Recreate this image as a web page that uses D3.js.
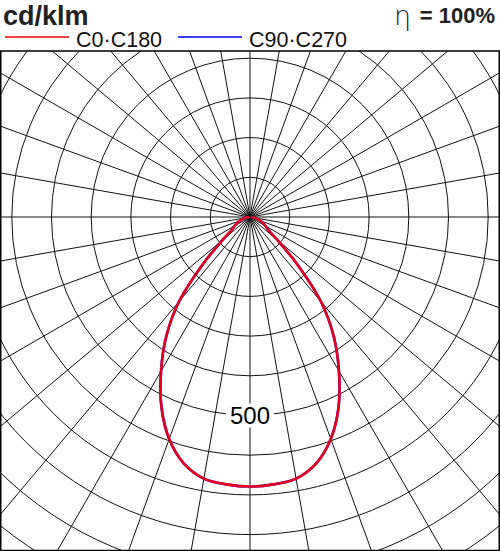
<!DOCTYPE html>
<html>
<head>
<meta charset="utf-8">
<script src="https://cdn.jsdelivr.net/npm/d3@7"></script>
<style>
body { margin: 0; background: #fff; }
</style>
</head>
<body>
<script>
var width = 500,
    height = 551;

// gamma angle from nadir (deg) and luminous intensity (cd/klm)
var gammas  = [0, 5, 10, 15, 20, 25, 30, 35, 40, 45, 50, 55, 60, 65, 70, 75, 80, 85, 90];
var c0c180  = [679, 676, 669, 643, 595, 528, 448, 368, 278, 168, 90, 55, 45, 36, 28, 20, 12, 6, 2];
var c90c270 = [679, 676, 669, 643, 595, 528, 448, 368, 278, 168, 90, 55, 45, 36, 28, 20, 12, 6, 2];

var ringValues = [100, 200, 300, 400, 500, 600, 700, 800, 900, 1000, 1100];
var spokeAngles = [0, 10, 20, 30, 40, 50, 60, 70, 80, 90, 100, 110, 120, 130, 140, 150, 160, 170,
                   180, 190, 200, 210, 220, 230, 240, 250, 260, 270, 280, 290, 300, 310, 320, 330, 340, 350];
var labelValues = [500];

var cx = 250, cy = 217;
var frame = {x: 0.75, y: 51, w: 498.5, h: 499.5};

var r = d3.scaleLinear().domain([0, 100]).range([0, 39.7]);

var svg = d3.select('body')
  .append('svg')
  .attr('width', width)
  .attr('height', height);

svg.append('clipPath')
  .attr('id', 'frameClip')
  .append('rect')
  .attr('x', frame.x).attr('y', frame.y)
  .attr('width', frame.w).attr('height', frame.h);

var g = svg.append('g')
  .attr('clip-path', 'url(#frameClip)')
  .append('g')
  .attr('transform', 'translate(' + cx + ',' + cy + ')');

// rings
g.selectAll('circle.ring')
  .data(ringValues)
  .enter()
  .append('circle')
  .attr('class', 'ring')
  .attr('r', d => r(d))
  .attr('fill', 'none')
  .attr('stroke', '#111')
  .attr('stroke-width', 1);

// spokes
var rMax = r(ringValues[ringValues.length - 1]) + 20;
g.selectAll('line.spoke')
  .data(spokeAngles)
  .enter()
  .append('line')
  .attr('class', 'spoke')
  .attr('x1', 0).attr('y1', 0)
  .attr('x2', d => rMax * Math.sin(d * Math.PI / 180))
  .attr('y2', d => rMax * Math.cos(d * Math.PI / 180))
  .attr('stroke', '#111')
  .attr('stroke-width', 1);

// intensity curves, mirrored about nadir
function curvePoints(vals) {
  var pts = [];
  for (var i = gammas.length - 1; i > 0; i--) pts.push([-gammas[i], vals[i]]);
  for (var j = 0; j < gammas.length; j++) pts.push([gammas[j], vals[j]]);
  return pts;
}

var radial = d3.lineRadial()
  .angle(d => Math.PI - d[0] * Math.PI / 180)
  .radius(d => r(d[1]))
  .curve(d3.curveCatmullRom);

g.append('path')
  .attr('d', radial(curvePoints(c90c270)))
  .attr('fill', 'none')
  .attr('stroke', '#0000ff')
  .attr('stroke-width', 2.6);

g.append('path')
  .attr('d', radial(curvePoints(c0c180)))
  .attr('fill', 'none')
  .attr('stroke', '#ff0000')
  .attr('stroke-opacity', 0.9)
  .attr('stroke-width', 2.6);

// ring value label
var lab = g.selectAll('g.lab')
  .data(labelValues)
  .enter()
  .append('g')
  .attr('class', 'lab')
  .attr('transform', d => 'translate(0,' + r(d) + ')');

lab.append('rect')
  .attr('x', -24).attr('y', -12)
  .attr('width', 48).attr('height', 24)
  .attr('fill', '#fff');

lab.append('text')
  .attr('text-anchor', 'middle')
  .attr('y', 8)
  .style('font-family', 'Liberation Sans, Arial, sans-serif')
  .style('font-size', '24px')
  .attr('fill', '#000')
  .text(d => d);

// frame
svg.append('rect')
  .attr('x', frame.x).attr('y', frame.y)
  .attr('width', frame.w).attr('height', frame.h)
  .attr('fill', 'none')
  .attr('stroke', '#000')
  .attr('stroke-width', 1.5);

// header
svg.append('text')
  .attr('x', 3).attr('y', 25)
  .style('font-family', 'Liberation Sans, Arial, sans-serif')
  .style('font-size', '27px')
  .style('font-weight', 'bold')
  .attr('fill', '#222')
  .text('cd/klm');

svg.append('text')
  .attr('x', 495).attr('y', 23)
  .attr('text-anchor', 'end')
  .style('font-family', 'Liberation Sans, Arial, sans-serif')
  .style('font-size', '22px')
  .style('font-weight', 'bold')
  .attr('fill', '#222')
  .text('= 100%');

svg.append('text')
  .attr('x', 394).attr('y', 25)
  .style('font-family', 'DejaVu Sans, sans-serif')
  .style('font-size', '27px')
  .style('font-weight', '200')
  .attr('fill', '#222')
  .text('η');

// legend
var legendItems = ['C0·C180', 'C90·C270'];
var legendColors = ['#ff0000', '#0000ff'];
var legendX = [5, 178];

var leg = svg.selectAll('g.legend')
  .data(legendItems)
  .enter()
  .append('g')
  .attr('class', 'legend')
  .attr('transform', (d, i) => 'translate(' + legendX[i] + ',37)');

leg.append('line')
  .attr('x1', 0).attr('x2', 64)
  .attr('stroke', (d, i) => legendColors[i])
  .attr('stroke-width', 1.6);

leg.append('text')
  .attr('x', 71).attr('y', 9.5)
  .style('font-family', 'Liberation Sans, Arial, sans-serif')
  .style('font-size', '21.5px')
  .attr('fill', '#111')
  .text(d => d);
</script>
</body>
</html>
